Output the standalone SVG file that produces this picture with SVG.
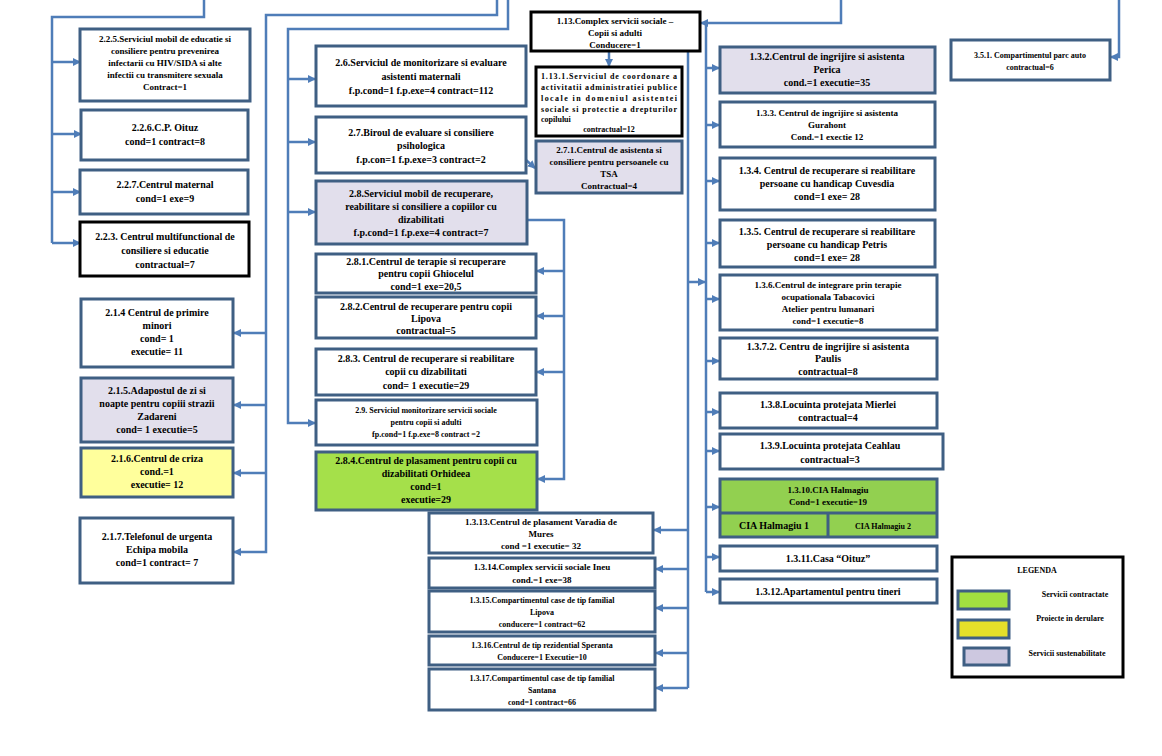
<svg xmlns="http://www.w3.org/2000/svg" width="1162" height="756" viewBox="0 0 1162 756">
<style>
.b{fill:#fff;stroke:#3f5f83;stroke-width:3}
.k{fill:#fff;stroke:#000;stroke-width:3}
.lav{fill:#e2dfec}
.yel{fill:#ffff9c}
.grn{fill:#a5e04a}
.g2{fill:#92d050}
text{font-family:"Liberation Serif","Times New Roman",serif;font-weight:bold;font-size:10px;text-anchor:middle;fill:#000}
.s{font-size:9px}
.xs{font-size:8px}
.l{text-anchor:start}
#conn path{fill:none;stroke:#4f7db8;stroke-width:2.5}
.a{marker-end:url(#ar)}
</style>
<defs>
<marker id="ar" markerUnits="userSpaceOnUse" markerWidth="8" markerHeight="8" refX="7" refY="4" orient="auto">
<path d="M0,0 L8,4 L0,8 Z" fill="#4f7db8"/>
</marker>
</defs>
<rect width="1162" height="756" fill="#fff"/>
<g id="conn">
<path d="M204,0 V17 H52 V243"/>
<path class="a" d="M52,62 H80"/><path class="a" d="M52,134 H81"/><path class="a" d="M52,192 H80"/><path class="a" d="M52,243 H80"/>
<path class="a" d="M497,0 V15 H266 V552 H234"/>
<path class="a" d="M266,333 H234"/><path class="a" d="M266,405 H234"/><path class="a" d="M266,473 H234"/>
<path class="a" d="M508,0 V29 H288 V423 H315"/>
<path class="a" d="M288,79 H315"/><path class="a" d="M288,142 H315"/><path class="a" d="M288,212 H315"/>
<path class="a" d="M527,220 H564 V479 H538"/>
<path class="a" d="M564,271 H537"/><path class="a" d="M564,316 H537"/><path class="a" d="M564,372 H537"/>
<path class="a" d="M526,160 L535,168"/>
<path class="a" d="M841,0 V23 H701"/>
<path d="M706,23 V592"/>
<path class="a" d="M706,68 H719"/><path class="a" d="M706,125 H719"/><path class="a" d="M706,181 H719"/><path class="a" d="M706,243 H719"/><path class="a" d="M706,299 H719"/><path class="a" d="M706,361 H719"/><path class="a" d="M706,412 H719"/><path class="a" d="M706,451 H719"/><path class="a" d="M706,507 H719"/><path class="a" d="M706,557 H719"/><path class="a" d="M706,592 H719"/>
<path d="M688,51 V688"/>
<path class="a" d="M688,530 H654"/><path class="a" d="M688,569 H656"/><path class="a" d="M688,608 H656"/><path class="a" d="M688,653 H656"/><path class="a" d="M688,688 H656"/>
<path class="a" d="M688,282 H705"/>
<path class="a" d="M609,51 V66"/>
<path class="a" d="M1119,0 V57 H1111"/>
</g>
<g id="n225"><rect class="b" x="80" y="29" width="170" height="72"/><text class="s" x="165" y="42">2.2.5.Serviciul mobil de educatie si</text><text class="s" x="165" y="54">consiliere pentru prevenirea</text><text class="s" x="165" y="66">infectarii cu HIV/SIDA si alte</text><text class="s" x="165" y="78">infectii cu transmitere sexuala</text><text class="s" x="165" y="90">Contract=1</text></g>
<g id="n226"><rect class="b" x="81" y="110" width="167" height="50"/><text x="165" y="131">2.2.6.C.P. Oituz</text><text x="165" y="145">cond=1 contract=8</text></g>
<g id="n227"><rect class="b" x="80" y="170" width="168" height="44"/><text x="165" y="188">2.2.7.Centrul maternal</text><text x="165" y="202">cond=1 exe=9</text></g>
<g id="n223"><rect class="k" x="80" y="222" width="169" height="54"/><text x="165" y="240">2.2.3. Centrul multifunctional de</text><text x="165" y="254">consiliere si educatie</text><text x="165" y="268">contractual=7</text></g>
<g id="n214"><rect class="b" x="81" y="299" width="152" height="68"/><text x="157" y="316">2.1.4 Centrul de primire</text><text x="157" y="329">minori</text><text x="157" y="342">cond= 1</text><text x="157" y="355">executie= 11</text></g>
<g id="n215"><rect class="b lav" x="81" y="378" width="152" height="64"/><text x="157" y="394">2.1.5.Adapostul de zi si</text><text x="157" y="407">noapte pentru copiii strazii</text><text x="157" y="420">Zadareni</text><text x="157" y="433">cond= 1 executie=5</text></g>
<g id="n216"><rect class="b yel" x="81" y="448" width="152" height="49"/><text x="157" y="462">2.1.6.Centrul de criza</text><text x="157" y="475">cond.=1</text><text x="157" y="488">executie= 12</text></g>
<g id="n217"><rect class="b" x="80" y="518" width="153" height="65"/><text x="157" y="540">2.1.7.Telefonul de urgenta</text><text x="157" y="553">Echipa mobila</text><text x="157" y="566">cond=1 contract= 7</text></g>
<g id="n26"><rect class="b" x="316" y="46" width="210" height="60"/><text x="421" y="66">2.6.Serviciul de monitorizare si evaluare</text><text x="421" y="80">asistenti maternali</text><text x="421" y="94">f.p.cond=1 f.p.exe=4 contract=112</text></g>
<g id="n27"><rect class="b" x="316" y="117" width="210" height="56"/><text x="421" y="136">2.7.Biroul de evaluare si consiliere</text><text x="421" y="149">psihologica</text><text x="421" y="163">f.p.con=1 f.p.exe=3 contract=2</text></g>
<g id="n28"><rect class="b lav" x="316" y="181" width="211" height="63"/><text x="421" y="197">2.8.Serviciul mobil de recuperare,</text><text x="421" y="210">reabilitare si consiliere a copiilor cu</text><text x="421" y="223">dizabilitati</text><text x="421" y="236">f.p.cond=1 f.p.exe=4 contract=7</text></g>
<g id="n281"><rect class="b" x="316" y="254" width="220" height="39"/><text x="426" y="265">2.8.1.Centrul de terapie si recuperare</text><text x="426" y="277">pentru copii Ghiocelul</text><text x="426" y="290">cond=1  exe=20,5</text></g>
<g id="n282"><rect class="b" x="316" y="297" width="220" height="41"/><text x="426" y="310">2.8.2.Centrul de recuperare pentru copii</text><text x="426" y="322">Lipova</text><text x="426" y="334">contractual=5</text></g>
<g id="n283"><rect class="b" x="316" y="349" width="220" height="46"/><text x="426" y="362">2.8.3. Centrul de recuperare si reabilitare</text><text x="426" y="375">copii cu dizabilitati</text><text x="426" y="389">cond= 1 executie=29</text></g>
<g id="n29"><rect class="b" x="316" y="400" width="221" height="45"/><text class="xs" x="426" y="413">2.9. Serviciul monitorizare servicii sociale</text><text class="xs" x="426" y="425">pentru copii si adulti</text><text class="xs" x="426" y="437">fp.cond=1 f.p.exe=8 contract =2</text></g>
<g id="n284"><rect class="b grn" x="316" y="452" width="221" height="58"/><text x="426" y="464">2.8.4.Centrul de plasament pentru copii cu</text><text x="426" y="477">dizabilitati Orhideea</text><text x="426" y="490">cond=1</text><text x="426" y="503">executie=29</text></g>
<g id="n113"><rect class="k" x="531" y="12" width="169" height="39"/><text class="s" x="615" y="24">1.13.Complex servicii sociale –</text><text class="s" x="615" y="36">Copii si adulti</text><text class="s" x="615" y="48">Conducere=1</text></g>
<g id="n1131"><rect class="k" x="536" y="67" width="146" height="69"/><text class="xs l" x="541" y="79" textLength="136" lengthAdjust="spacing">1.13.1.Serviciul de coordonare a</text><text class="xs l" x="541" y="90" textLength="136" lengthAdjust="spacing">activitatii administratiei publice</text><text class="xs l" x="541" y="101" textLength="136" lengthAdjust="spacing">locale in domeniul asistentei</text><text class="xs l" x="541" y="112" textLength="136" lengthAdjust="spacing">sociale si protectie a drepturilor</text><text class="xs l" x="541" y="122">copilului</text><text class="xs" x="609" y="132">contractual=12</text></g>
<g id="n271"><rect class="b lav" x="536" y="141" width="146" height="52"/><text class="s" x="609" y="153">2.7.1.Centrul de asistenta si</text><text class="s" x="609" y="165">consiliere pentru persoanele cu</text><text class="s" x="609" y="177">TSA</text><text class="s" x="609" y="189">Contractual=4</text></g>
<g id="n132"><rect class="b lav" x="720" y="47" width="215" height="46"/><text x="827" y="60">1.3.2.Centrul de ingrijire si asistenta</text><text x="827" y="73">Perica</text><text x="827" y="86">cond.=1 executie=35</text></g>
<g id="n133"><rect class="b" x="720" y="102" width="215" height="45"/><text class="s" x="827" y="116">1.3.3. Centrul de ingrijire si asistenta</text><text class="s" x="827" y="128">Gurahont</text><text class="s" x="827" y="140">Cond.=1 exectie 12</text></g>
<g id="n134"><rect class="b" x="720" y="158" width="215" height="52"/><text x="827" y="174">1.3.4. Centrul de recuperare si reabilitare</text><text x="827" y="187">persoane cu handicap Cuvesdia</text><text x="827" y="200">cond=1 exe= 28</text></g>
<g id="n135"><rect class="b" x="720" y="220" width="215" height="47"/><text x="827" y="235">1.3.5. Centrul de recuperare si reabilitare</text><text x="827" y="248">persoane cu handicap Petris</text><text x="827" y="261">cond=1 exe= 28</text></g>
<g id="n136"><rect class="b" x="720" y="275" width="217" height="55"/><text class="s" x="828" y="288">1.3.6.Centrul de integrare prin terapie</text><text class="s" x="828" y="300">ocupationala Tabacovici</text><text class="s" x="828" y="312">Atelier pentru lumanari</text><text class="s" x="828" y="324">cond=1  executie=8</text></g>
<g id="n1372"><rect class="b" x="720" y="338" width="217" height="41"/><text x="828" y="350">1.3.7.2. Centru de ingrijire si  asistenta</text><text x="828" y="362">Paulis</text><text x="828" y="375">contractual=8</text></g>
<g id="n138"><rect class="b" x="720" y="393" width="217" height="35"/><text x="828" y="408">1.3.8.Locuinta protejata Mierlei</text><text x="828" y="421">contractual=4</text></g>
<g id="n139"><rect class="b" x="720" y="434" width="223" height="35"/><text x="830" y="449">1.3.9.Locuinta protejata Ceahlau</text><text x="830" y="463">contractual=3</text></g>
<g id="n1310"><rect class="b g2" x="720" y="479" width="217" height="58"/><line x1="720" y1="513" x2="937" y2="513" stroke="#3f5f83" stroke-width="3"/><line x1="828" y1="513" x2="828" y2="537" stroke="#3f5f83" stroke-width="3"/><text class="s" x="828" y="493">1.3.10.CIA Halmagiu</text><text class="s" x="828" y="505">Cond=1  executie=19</text><text x="774" y="529">CIA Halmagiu 1</text><text class="xs" x="883" y="529">CIA Halmagiu 2</text></g>
<g id="n1311"><rect class="b" x="720" y="546" width="217" height="25"/><text x="828" y="562">1.3.11.Casa “Oituz”</text></g>
<g id="n1312"><rect class="b" x="720" y="579" width="217" height="24"/><text x="828" y="595">1.3.12.Apartamentul pentru tineri</text></g>
<g id="n1313"><rect class="b" x="429" y="513" width="224" height="40"/><text class="s" x="541" y="525">1.3.13.Centrul de plasament Varadia de</text><text class="s" x="541" y="537">Mures</text><text class="s" x="541" y="549">cond =1 executie= 32</text></g>
<g id="n1314"><rect class="b" x="429" y="558" width="226" height="30"/><text class="s" x="542" y="570">1.3.14.Complex servicii sociale Ineu</text><text class="s" x="542" y="583">cond.=1 exe=38</text></g>
<g id="n1315"><rect class="b" x="429" y="591" width="226" height="41"/><text class="xs" x="542" y="603">1.3.15.Compartimentul case de tip familial</text><text class="xs" x="542" y="615">Lipova</text><text class="xs" x="542" y="627">conducere=1  contract=62</text></g>
<g id="n1316"><rect class="b" x="429" y="636" width="226" height="29"/><text class="xs" x="542" y="648">1.3.16.Centrul de tip rezidential Speranta</text><text class="xs" x="542" y="660">Conducere=1 Executie=10</text></g>
<g id="n1317"><rect class="b" x="429" y="669" width="226" height="41"/><text class="xs" x="542" y="681">1.3.17.Compartimentul case de tip familial</text><text class="xs" x="542" y="693">Santana</text><text class="xs" x="542" y="705">cond=1 contract=66</text></g>
<g id="n351"><rect class="b" x="951" y="40" width="159" height="40"/><text class="xs" x="1030" y="58">3.5.1. Compartimentul parc auto</text><text class="xs" x="1030" y="70">contractual=6</text></g>
<g id="legend"><rect x="952" y="557" width="171" height="120" fill="#fff" stroke="#000" stroke-width="3"/><text class="xs" x="1037" y="573">LEGENDA</text><rect x="958" y="591" width="51" height="18" fill="#a2e040" stroke="#3f5f83" stroke-width="3"/><rect x="958" y="620" width="51" height="18" fill="#e5e02a" stroke="#3f5f83" stroke-width="3"/><rect x="964" y="648" width="45" height="17" fill="#cdc8e0" stroke="#3f5f83" stroke-width="3"/><text class="xs" x="1075" y="597">Servicii contractate</text><text class="xs" x="1070" y="621">Proiecte in derulare</text><text class="xs" x="1067" y="656">Servicii sustenabilitate</text></g>
</svg>
